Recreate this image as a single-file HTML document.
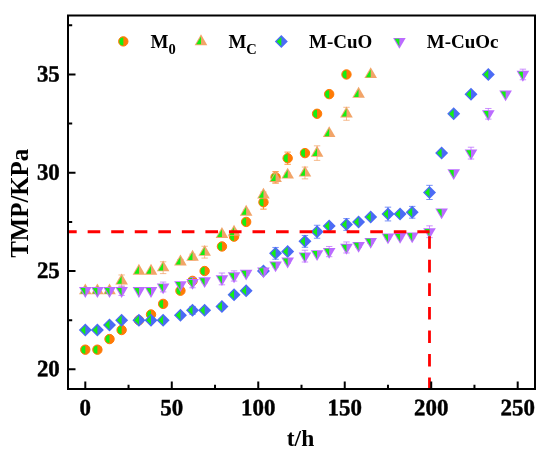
<!DOCTYPE html>
<html><head><meta charset="utf-8"><title>TMP chart</title>
<style>
html,body{margin:0;padding:0;background:#fff;}
svg{display:block;}
text{font-family:"Liberation Serif","Times New Roman",serif;font-weight:bold;fill:#000;}
</style></head><body>
<svg width="550" height="457" viewBox="0 0 550 457">
<rect width="550" height="457" fill="#fff"/>
<g id="data">
<circle cx="85.3" cy="349.68" r="4.7" fill="#FF7A05" stroke="#FF7A05" stroke-width="1"/><path d="M85.3 345.68A4.0 4.0 0 0 0 85.3 353.68Z" fill="#12F012"/>
<circle cx="97.4" cy="349.68" r="4.7" fill="#FF7A05" stroke="#FF7A05" stroke-width="1"/><path d="M97.4 345.68A4.0 4.0 0 0 0 97.4 353.68Z" fill="#12F012"/>
<path d="M109.51 336.71V341.43M106.31 336.71H112.71M106.31 341.43H112.71" stroke="#FF7A05" stroke-width="0.75" fill="none"/><circle cx="109.51" cy="339.07" r="4.7" fill="#FF7A05" stroke="#FF7A05" stroke-width="1"/><path d="M109.51 335.07A4.0 4.0 0 0 0 109.51 343.07Z" fill="#12F012"/>
<circle cx="121.62" cy="330.03" r="4.7" fill="#FF7A05" stroke="#FF7A05" stroke-width="1"/><path d="M121.62 326.03A4.0 4.0 0 0 0 121.62 334.03Z" fill="#12F012"/>
<path d="M138.91 318.23V322.16M135.71 318.23H142.11M135.71 322.16H142.11" stroke="#FF7A05" stroke-width="0.75" fill="none"/><circle cx="138.91" cy="320.2" r="4.7" fill="#FF7A05" stroke="#FF7A05" stroke-width="1"/><path d="M138.91 316.2A4.0 4.0 0 0 0 138.91 324.2Z" fill="#12F012"/>
<path d="M151.02 311.55V317.45M147.82 311.55H154.22M147.82 317.45H154.22" stroke="#FF7A05" stroke-width="0.75" fill="none"/><circle cx="151.02" cy="314.5" r="4.7" fill="#FF7A05" stroke="#FF7A05" stroke-width="1"/><path d="M151.02 310.5A4.0 4.0 0 0 0 151.02 318.5Z" fill="#12F012"/>
<path d="M163.13 301.92V305.85M159.93 301.92H166.33M159.93 305.85H166.33" stroke="#FF7A05" stroke-width="0.75" fill="none"/><circle cx="163.13" cy="303.88" r="4.7" fill="#FF7A05" stroke="#FF7A05" stroke-width="1"/><path d="M163.13 299.88A4.0 4.0 0 0 0 163.13 307.88Z" fill="#12F012"/>
<path d="M180.43 288.74V292.68M177.23 288.74H183.63M177.23 292.68H183.63" stroke="#FF7A05" stroke-width="0.75" fill="none"/><circle cx="180.43" cy="290.71" r="4.7" fill="#FF7A05" stroke="#FF7A05" stroke-width="1"/><path d="M180.43 286.71A4.0 4.0 0 0 0 180.43 294.71Z" fill="#12F012"/>
<path d="M192.53 277.93V283.83M189.33 277.93H195.73M189.33 283.83H195.73" stroke="#FF7A05" stroke-width="0.75" fill="none"/><circle cx="192.53" cy="280.88" r="4.7" fill="#FF7A05" stroke="#FF7A05" stroke-width="1"/><path d="M192.53 276.88A4.0 4.0 0 0 0 192.53 284.88Z" fill="#12F012"/>
<path d="M204.64 269.09V273.02M201.44 269.09H207.84M201.44 273.02H207.84" stroke="#FF7A05" stroke-width="0.75" fill="none"/><circle cx="204.64" cy="271.05" r="4.7" fill="#FF7A05" stroke="#FF7A05" stroke-width="1"/><path d="M204.64 267.05A4.0 4.0 0 0 0 204.64 275.05Z" fill="#12F012"/>
<path d="M221.94 244.12V248.84M218.74 244.12H225.14M218.74 248.84H225.14" stroke="#FF7A05" stroke-width="0.75" fill="none"/><circle cx="221.94" cy="246.48" r="4.7" fill="#FF7A05" stroke="#FF7A05" stroke-width="1"/><path d="M221.94 242.48A4.0 4.0 0 0 0 221.94 250.48Z" fill="#12F012"/>
<path d="M234.04 234.69V238.62M230.84 234.69H237.24M230.84 238.62H237.24" stroke="#FF7A05" stroke-width="0.75" fill="none"/><circle cx="234.04" cy="236.65" r="4.7" fill="#FF7A05" stroke="#FF7A05" stroke-width="1"/><path d="M234.04 232.65A4.0 4.0 0 0 0 234.04 240.65Z" fill="#12F012"/>
<path d="M246.15 219.94V223.87M242.95 219.94H249.35M242.95 223.87H249.35" stroke="#FF7A05" stroke-width="0.75" fill="none"/><circle cx="246.15" cy="221.91" r="4.7" fill="#FF7A05" stroke="#FF7A05" stroke-width="1"/><path d="M246.15 217.91A4.0 4.0 0 0 0 246.15 225.91Z" fill="#12F012"/>
<path d="M263.45 195.37V209.13M260.25 195.37H266.65M260.25 209.13H266.65" stroke="#FF7A05" stroke-width="0.75" fill="none"/><circle cx="263.45" cy="202.25" r="4.7" fill="#FF7A05" stroke="#FF7A05" stroke-width="1"/><path d="M263.45 198.25A4.0 4.0 0 0 0 263.45 206.25Z" fill="#12F012"/>
<path d="M275.56 171.58V182.99M272.36 171.58H278.76M272.36 182.99H278.76" stroke="#FF7A05" stroke-width="0.75" fill="none"/><circle cx="275.56" cy="177.28" r="4.7" fill="#FF7A05" stroke="#FF7A05" stroke-width="1"/><path d="M275.56 173.28A4.0 4.0 0 0 0 275.56 181.28Z" fill="#12F012"/>
<path d="M287.66 152.12V164.31M284.46 152.12H290.86M284.46 164.31H290.86" stroke="#FF7A05" stroke-width="0.75" fill="none"/><circle cx="287.66" cy="158.22" r="4.7" fill="#FF7A05" stroke="#FF7A05" stroke-width="1"/><path d="M287.66 154.22A4.0 4.0 0 0 0 287.66 162.22Z" fill="#12F012"/>
<path d="M304.96 151.14V155.07M301.76 151.14H308.16M301.76 155.07H308.16" stroke="#FF7A05" stroke-width="0.75" fill="none"/><circle cx="304.96" cy="153.11" r="4.7" fill="#FF7A05" stroke="#FF7A05" stroke-width="1"/><path d="M304.96 149.11A4.0 4.0 0 0 0 304.96 157.11Z" fill="#12F012"/>
<circle cx="317.07" cy="113.79" r="4.7" fill="#FF7A05" stroke="#FF7A05" stroke-width="1"/><path d="M317.07 109.79A4.0 4.0 0 0 0 317.07 117.79Z" fill="#12F012"/>
<circle cx="329.17" cy="94.13" r="4.7" fill="#FF7A05" stroke="#FF7A05" stroke-width="1"/><path d="M329.17 90.13A4.0 4.0 0 0 0 329.17 98.13Z" fill="#12F012"/>
<circle cx="346.47" cy="74.47" r="4.7" fill="#FF7A05" stroke="#FF7A05" stroke-width="1"/><path d="M346.47 70.47A4.0 4.0 0 0 0 346.47 78.47Z" fill="#12F012"/>
<path d="M85.3 288.74V292.68M82.1 288.74H88.5M82.1 292.68H88.5" stroke="#F2A468" stroke-width="0.75" fill="none"/><path d="M85.3 283.44L91.6 294.34L79 294.34Z" fill="#F2A468"/><path d="M85.3 285.74L85.3 293.49L80.61 293.49Z" fill="#12F012"/>
<path d="M97.4 288.74V292.68M94.2 288.74H100.6M94.2 292.68H100.6" stroke="#F2A468" stroke-width="0.75" fill="none"/><path d="M97.4 283.44L103.7 294.34L91.1 294.34Z" fill="#F2A468"/><path d="M97.4 285.74L97.4 293.49L92.72 293.49Z" fill="#12F012"/>
<path d="M109.51 288.74V292.68M106.31 288.74H112.71M106.31 292.68H112.71" stroke="#F2A468" stroke-width="0.75" fill="none"/><path d="M109.51 283.44L115.81 294.34L103.21 294.34Z" fill="#F2A468"/><path d="M109.51 285.74L109.51 293.49L104.83 293.49Z" fill="#12F012"/>
<path d="M121.62 274.98V286.78M118.42 274.98H124.82M118.42 286.78H124.82" stroke="#F2A468" stroke-width="0.75" fill="none"/><path d="M121.62 273.61L127.92 284.51L115.32 284.51Z" fill="#F2A468"/><path d="M121.62 275.91L121.62 283.66L116.93 283.66Z" fill="#12F012"/>
<path d="M138.91 263.79L145.21 274.69L132.61 274.69Z" fill="#F2A468"/><path d="M138.91 266.09L138.91 273.84L134.23 273.84Z" fill="#12F012"/>
<path d="M151.02 263.79L157.32 274.69L144.72 274.69Z" fill="#F2A468"/><path d="M151.02 266.09L151.02 273.84L146.34 273.84Z" fill="#12F012"/>
<path d="M163.13 261.81V273.61M159.93 261.81H166.33M159.93 273.61H166.33" stroke="#F2A468" stroke-width="0.75" fill="none"/><path d="M163.13 260.44L169.43 271.34L156.83 271.34Z" fill="#F2A468"/><path d="M163.13 262.74L163.13 270.49L158.44 270.49Z" fill="#12F012"/>
<path d="M180.43 259.45V264.17M177.23 259.45H183.63M177.23 264.17H183.63" stroke="#F2A468" stroke-width="0.75" fill="none"/><path d="M180.43 254.55L186.73 265.45L174.13 265.45Z" fill="#F2A468"/><path d="M180.43 256.85L180.43 264.6L175.74 264.6Z" fill="#12F012"/>
<path d="M192.53 254.15V260.04M189.33 254.15H195.73M189.33 260.04H195.73" stroke="#F2A468" stroke-width="0.75" fill="none"/><path d="M192.53 249.83L198.83 260.73L186.23 260.73Z" fill="#F2A468"/><path d="M192.53 252.13L192.53 259.88L187.85 259.88Z" fill="#12F012"/>
<path d="M204.64 246.28V258.08M201.44 246.28H207.84M201.44 258.08H207.84" stroke="#F2A468" stroke-width="0.75" fill="none"/><path d="M204.64 244.91L210.94 255.81L198.34 255.81Z" fill="#F2A468"/><path d="M204.64 247.21L204.64 254.96L199.96 254.96Z" fill="#12F012"/>
<path d="M221.94 232.33V236.26M218.74 232.33H225.14M218.74 236.26H225.14" stroke="#F2A468" stroke-width="0.75" fill="none"/><path d="M221.94 227.03L228.24 237.93L215.64 237.93Z" fill="#F2A468"/><path d="M221.94 229.33L221.94 237.08L217.25 237.08Z" fill="#12F012"/>
<path d="M234.04 230.16V234.1M230.84 230.16H237.24M230.84 234.1H237.24" stroke="#F2A468" stroke-width="0.75" fill="none"/><path d="M234.04 224.86L240.34 235.76L227.74 235.76Z" fill="#F2A468"/><path d="M234.04 227.16L234.04 234.91L229.36 234.91Z" fill="#12F012"/>
<path d="M246.15 210.11V214.04M242.95 210.11H249.35M242.95 214.04H249.35" stroke="#F2A468" stroke-width="0.75" fill="none"/><path d="M246.15 204.81L252.45 215.71L239.85 215.71Z" fill="#F2A468"/><path d="M246.15 207.11L246.15 214.86L241.47 214.86Z" fill="#12F012"/>
<path d="M263.45 192.03V197.93M260.25 192.03H266.65M260.25 197.93H266.65" stroke="#F2A468" stroke-width="0.75" fill="none"/><path d="M263.45 187.71L269.75 198.61L257.15 198.61Z" fill="#F2A468"/><path d="M263.45 190.01L263.45 197.76L258.76 197.76Z" fill="#12F012"/>
<path d="M275.56 173.35V183.18M272.36 173.35H278.76M272.36 183.18H278.76" stroke="#F2A468" stroke-width="0.75" fill="none"/><path d="M275.56 171L281.86 181.9L269.26 181.9Z" fill="#F2A468"/><path d="M275.56 173.3L275.56 181.05L270.87 181.05Z" fill="#12F012"/>
<path d="M287.66 172.96V176.89M284.46 172.96H290.86M284.46 176.89H290.86" stroke="#F2A468" stroke-width="0.75" fill="none"/><path d="M287.66 167.66L293.96 178.56L281.36 178.56Z" fill="#F2A468"/><path d="M287.66 169.96L287.66 177.71L282.98 177.71Z" fill="#12F012"/>
<path d="M304.96 167.06V178.86M301.76 167.06H308.16M301.76 178.86H308.16" stroke="#F2A468" stroke-width="0.75" fill="none"/><path d="M304.96 165.69L311.26 176.59L298.66 176.59Z" fill="#F2A468"/><path d="M304.96 167.99L304.96 175.74L300.27 175.74Z" fill="#12F012"/>
<path d="M317.07 145.83V160.38M313.87 145.83H320.27M313.87 160.38H320.27" stroke="#F2A468" stroke-width="0.75" fill="none"/><path d="M317.07 145.84L323.37 156.74L310.77 156.74Z" fill="#F2A468"/><path d="M317.07 148.14L317.07 155.89L312.38 155.89Z" fill="#12F012"/>
<path d="M329.17 126.18L335.47 137.08L322.87 137.08Z" fill="#F2A468"/><path d="M329.17 128.48L329.17 136.23L324.49 136.23Z" fill="#12F012"/>
<path d="M346.47 107.3V120.28M343.27 107.3H349.67M343.27 120.28H349.67" stroke="#F2A468" stroke-width="0.75" fill="none"/><path d="M346.47 106.52L352.77 117.42L340.17 117.42Z" fill="#F2A468"/><path d="M346.47 108.82L346.47 116.57L341.79 116.57Z" fill="#12F012"/>
<path d="M358.58 86.86L364.88 97.76L352.28 97.76Z" fill="#F2A468"/><path d="M358.58 89.16L358.58 96.91L353.89 96.91Z" fill="#12F012"/>
<path d="M370.69 67.21L376.99 78.11L364.39 78.11Z" fill="#F2A468"/><path d="M370.69 69.51L370.69 77.26L366 77.26Z" fill="#12F012"/>
<path d="M85.3 323.53L91.8 330.03L85.3 336.53L78.8 330.03Z" fill="#4B6BF5"/><path d="M85.3 325.43L85.3 334.63L80.7 330.03Z" fill="#12F012"/>
<path d="M97.4 323.53L103.9 330.03L97.4 336.53L90.9 330.03Z" fill="#4B6BF5"/><path d="M97.4 325.43L97.4 334.63L92.8 330.03Z" fill="#12F012"/>
<path d="M109.51 322.95V326.88M106.31 322.95H112.71M106.31 326.88H112.71" stroke="#4B6BF5" stroke-width="0.75" fill="none"/><path d="M109.51 318.42L116.01 324.92L109.51 331.42L103.01 324.92Z" fill="#4B6BF5"/><path d="M109.51 320.32L109.51 329.52L104.91 324.92Z" fill="#12F012"/>
<path d="M121.62 318.23V322.16M118.42 318.23H124.82M118.42 322.16H124.82" stroke="#4B6BF5" stroke-width="0.75" fill="none"/><path d="M121.62 313.7L128.12 320.2L121.62 326.7L115.12 320.2Z" fill="#4B6BF5"/><path d="M121.62 315.6L121.62 324.8L117.02 320.2Z" fill="#12F012"/>
<path d="M138.91 318.23V322.16M135.71 318.23H142.11M135.71 322.16H142.11" stroke="#4B6BF5" stroke-width="0.75" fill="none"/><path d="M138.91 313.7L145.41 320.2L138.91 326.7L132.41 320.2Z" fill="#4B6BF5"/><path d="M138.91 315.6L138.91 324.8L134.31 320.2Z" fill="#12F012"/>
<path d="M151.02 318.23V322.16M147.82 318.23H154.22M147.82 322.16H154.22" stroke="#4B6BF5" stroke-width="0.75" fill="none"/><path d="M151.02 313.7L157.52 320.2L151.02 326.7L144.52 320.2Z" fill="#4B6BF5"/><path d="M151.02 315.6L151.02 324.8L146.42 320.2Z" fill="#12F012"/>
<path d="M163.13 318.23V322.16M159.93 318.23H166.33M159.93 322.16H166.33" stroke="#4B6BF5" stroke-width="0.75" fill="none"/><path d="M163.13 313.7L169.63 320.2L163.13 326.7L156.63 320.2Z" fill="#4B6BF5"/><path d="M163.13 315.6L163.13 324.8L158.53 320.2Z" fill="#12F012"/>
<path d="M180.43 313.32V317.25M177.23 313.32H183.63M177.23 317.25H183.63" stroke="#4B6BF5" stroke-width="0.75" fill="none"/><path d="M180.43 308.78L186.93 315.28L180.43 321.78L173.93 315.28Z" fill="#4B6BF5"/><path d="M180.43 310.68L180.43 319.88L175.83 315.28Z" fill="#12F012"/>
<path d="M192.53 306.44V314.3M189.33 306.44H195.73M189.33 314.3H195.73" stroke="#4B6BF5" stroke-width="0.75" fill="none"/><path d="M192.53 303.87L199.03 310.37L192.53 316.87L186.03 310.37Z" fill="#4B6BF5"/><path d="M192.53 305.77L192.53 314.97L187.93 310.37Z" fill="#12F012"/>
<path d="M204.64 308.4V312.33M201.44 308.4H207.84M201.44 312.33H207.84" stroke="#4B6BF5" stroke-width="0.75" fill="none"/><path d="M204.64 303.87L211.14 310.37L204.64 316.87L198.14 310.37Z" fill="#4B6BF5"/><path d="M204.64 305.77L204.64 314.97L200.04 310.37Z" fill="#12F012"/>
<path d="M221.94 303.49V309.39M218.74 303.49H225.14M218.74 309.39H225.14" stroke="#4B6BF5" stroke-width="0.75" fill="none"/><path d="M221.94 299.94L228.44 306.44L221.94 312.94L215.44 306.44Z" fill="#4B6BF5"/><path d="M221.94 301.84L221.94 311.04L217.34 306.44Z" fill="#12F012"/>
<path d="M234.04 292.68V296.61M230.84 292.68H237.24M230.84 296.61H237.24" stroke="#4B6BF5" stroke-width="0.75" fill="none"/><path d="M234.04 288.14L240.54 294.64L234.04 301.14L227.54 294.64Z" fill="#4B6BF5"/><path d="M234.04 290.04L234.04 299.24L229.44 294.64Z" fill="#12F012"/>
<path d="M246.15 288.74V292.68M242.95 288.74H249.35M242.95 292.68H249.35" stroke="#4B6BF5" stroke-width="0.75" fill="none"/><path d="M246.15 284.21L252.65 290.71L246.15 297.21L239.65 290.71Z" fill="#4B6BF5"/><path d="M246.15 286.11L246.15 295.31L241.55 290.71Z" fill="#12F012"/>
<path d="M263.45 268.1V274M260.25 268.1H266.65M260.25 274H266.65" stroke="#4B6BF5" stroke-width="0.75" fill="none"/><path d="M263.45 264.55L269.95 271.05L263.45 277.55L256.95 271.05Z" fill="#4B6BF5"/><path d="M263.45 266.45L263.45 275.65L258.85 271.05Z" fill="#12F012"/>
<path d="M275.56 247.46V259.26M272.36 247.46H278.76M272.36 259.26H278.76" stroke="#4B6BF5" stroke-width="0.75" fill="none"/><path d="M275.56 246.86L282.06 253.36L275.56 259.86L269.06 253.36Z" fill="#4B6BF5"/><path d="M275.56 248.76L275.56 257.96L270.96 253.36Z" fill="#12F012"/>
<path d="M287.66 249.63V253.56M284.46 249.63H290.86M284.46 253.56H290.86" stroke="#4B6BF5" stroke-width="0.75" fill="none"/><path d="M287.66 245.09L294.16 251.59L287.66 258.09L281.16 251.59Z" fill="#4B6BF5"/><path d="M287.66 246.99L287.66 256.19L283.06 251.59Z" fill="#12F012"/>
<path d="M304.96 235.47V247.27M301.76 235.47H308.16M301.76 247.27H308.16" stroke="#4B6BF5" stroke-width="0.75" fill="none"/><path d="M304.96 234.87L311.46 241.37L304.96 247.87L298.46 241.37Z" fill="#4B6BF5"/><path d="M304.96 236.77L304.96 245.97L300.36 241.37Z" fill="#12F012"/>
<path d="M317.07 225.25V238.22M313.87 225.25H320.27M313.87 238.22H320.27" stroke="#4B6BF5" stroke-width="0.75" fill="none"/><path d="M317.07 225.24L323.57 231.74L317.07 238.24L310.57 231.74Z" fill="#4B6BF5"/><path d="M317.07 227.14L317.07 236.34L312.47 231.74Z" fill="#12F012"/>
<path d="M329.17 224.07V228M325.97 224.07H332.37M325.97 228H332.37" stroke="#4B6BF5" stroke-width="0.75" fill="none"/><path d="M329.17 219.54L335.67 226.04L329.17 232.54L322.67 226.04Z" fill="#4B6BF5"/><path d="M329.17 221.44L329.17 230.64L324.57 226.04Z" fill="#12F012"/>
<path d="M346.47 218.57V230.36M343.27 218.57H349.67M343.27 230.36H349.67" stroke="#4B6BF5" stroke-width="0.75" fill="none"/><path d="M346.47 217.96L352.97 224.46L346.47 230.96L339.97 224.46Z" fill="#4B6BF5"/><path d="M346.47 219.86L346.47 229.06L341.87 224.46Z" fill="#12F012"/>
<path d="M358.58 219.94V223.87M355.38 219.94H361.78M355.38 223.87H361.78" stroke="#4B6BF5" stroke-width="0.75" fill="none"/><path d="M358.58 215.41L365.08 221.91L358.58 228.41L352.08 221.91Z" fill="#4B6BF5"/><path d="M358.58 217.31L358.58 226.51L353.98 221.91Z" fill="#12F012"/>
<path d="M370.69 215.03V218.96M367.49 215.03H373.89M367.49 218.96H373.89" stroke="#4B6BF5" stroke-width="0.75" fill="none"/><path d="M370.69 210.49L377.19 216.99L370.69 223.49L364.19 216.99Z" fill="#4B6BF5"/><path d="M370.69 212.39L370.69 221.59L366.09 216.99Z" fill="#12F012"/>
<path d="M387.98 207.16V220.93M384.78 207.16H391.18M384.78 220.93H391.18" stroke="#4B6BF5" stroke-width="0.75" fill="none"/><path d="M387.98 207.54L394.48 214.04L387.98 220.54L381.48 214.04Z" fill="#4B6BF5"/><path d="M387.98 209.44L387.98 218.64L383.38 214.04Z" fill="#12F012"/>
<path d="M400.09 212.08V216.01M396.89 212.08H403.29M396.89 216.01H403.29" stroke="#4B6BF5" stroke-width="0.75" fill="none"/><path d="M400.09 207.54L406.59 214.04L400.09 220.54L393.59 214.04Z" fill="#4B6BF5"/><path d="M400.09 209.44L400.09 218.64L395.49 214.04Z" fill="#12F012"/>
<path d="M412.2 206.38V218.17M409 206.38H415.4M409 218.17H415.4" stroke="#4B6BF5" stroke-width="0.75" fill="none"/><path d="M412.2 205.78L418.7 212.28L412.2 218.78L405.7 212.28Z" fill="#4B6BF5"/><path d="M412.2 207.68L412.2 216.88L407.6 212.28Z" fill="#12F012"/>
<path d="M429.49 185.34V199.5M426.29 185.34H432.69M426.29 199.5H432.69" stroke="#4B6BF5" stroke-width="0.75" fill="none"/><path d="M429.49 185.92L435.99 192.42L429.49 198.92L422.99 192.42Z" fill="#4B6BF5"/><path d="M429.49 187.82L429.49 197.02L424.89 192.42Z" fill="#12F012"/>
<path d="M441.6 146.61L448.1 153.11L441.6 159.61L435.1 153.11Z" fill="#4B6BF5"/><path d="M441.6 148.51L441.6 157.71L437 153.11Z" fill="#12F012"/>
<path d="M453.71 107.29L460.21 113.79L453.71 120.29L447.21 113.79Z" fill="#4B6BF5"/><path d="M453.71 109.19L453.71 118.39L449.11 113.79Z" fill="#12F012"/>
<path d="M471 87.63L477.5 94.13L471 100.63L464.5 94.13Z" fill="#4B6BF5"/><path d="M471 89.53L471 98.73L466.4 94.13Z" fill="#12F012"/>
<path d="M488.3 67.97L494.8 74.47L488.3 80.97L481.8 74.47Z" fill="#4B6BF5"/><path d="M488.3 69.87L488.3 79.07L483.7 74.47Z" fill="#12F012"/>
<path d="M85.3 288.74V292.68M82.1 288.74H88.5M82.1 292.68H88.5" stroke="#BB6BFF" stroke-width="0.75" fill="none"/><path d="M79 287.11L91.6 287.11L85.3 297.91Z" fill="#BB6BFF"/><path d="M85.3 295.61L85.3 287.96L80.61 287.96Z" fill="#12F012"/>
<path d="M97.4 288.74V292.68M94.2 288.74H100.6M94.2 292.68H100.6" stroke="#BB6BFF" stroke-width="0.75" fill="none"/><path d="M91.1 287.11L103.7 287.11L97.4 297.91Z" fill="#BB6BFF"/><path d="M97.4 295.61L97.4 287.96L92.72 287.96Z" fill="#12F012"/>
<path d="M109.51 288.74V292.68M106.31 288.74H112.71M106.31 292.68H112.71" stroke="#BB6BFF" stroke-width="0.75" fill="none"/><path d="M103.21 287.11L115.81 287.11L109.51 297.91Z" fill="#BB6BFF"/><path d="M109.51 295.61L109.51 287.96L104.83 287.96Z" fill="#12F012"/>
<path d="M121.62 285.99V295.43M118.42 285.99H124.82M118.42 295.43H124.82" stroke="#BB6BFF" stroke-width="0.75" fill="none"/><path d="M115.32 287.11L127.92 287.11L121.62 297.91Z" fill="#BB6BFF"/><path d="M121.62 295.61L121.62 287.96L116.93 287.96Z" fill="#12F012"/>
<path d="M132.61 287.11L145.21 287.11L138.91 297.91Z" fill="#BB6BFF"/><path d="M138.91 295.61L138.91 287.96L134.23 287.96Z" fill="#12F012"/>
<path d="M144.72 287.11L157.32 287.11L151.02 297.91Z" fill="#BB6BFF"/><path d="M151.02 295.61L151.02 287.96L146.34 287.96Z" fill="#12F012"/>
<path d="M163.13 282.06V291.89M159.93 282.06H166.33M159.93 291.89H166.33" stroke="#BB6BFF" stroke-width="0.75" fill="none"/><path d="M156.83 283.38L169.43 283.38L163.13 294.18Z" fill="#BB6BFF"/><path d="M163.13 291.88L163.13 284.23L158.44 284.23Z" fill="#12F012"/>
<path d="M180.43 282.85V286.78M177.23 282.85H183.63M177.23 286.78H183.63" stroke="#BB6BFF" stroke-width="0.75" fill="none"/><path d="M174.13 281.21L186.73 281.21L180.43 292.01Z" fill="#BB6BFF"/><path d="M180.43 289.71L180.43 282.06L175.74 282.06Z" fill="#12F012"/>
<path d="M192.53 277.54V287.76M189.33 277.54H195.73M189.33 287.76H195.73" stroke="#BB6BFF" stroke-width="0.75" fill="none"/><path d="M186.23 279.05L198.83 279.05L192.53 289.85Z" fill="#BB6BFF"/><path d="M192.53 287.55L192.53 279.9L187.85 279.9Z" fill="#12F012"/>
<path d="M204.64 278.92V282.85M201.44 278.92H207.84M201.44 282.85H207.84" stroke="#BB6BFF" stroke-width="0.75" fill="none"/><path d="M198.34 277.28L210.94 277.28L204.64 288.08Z" fill="#BB6BFF"/><path d="M204.64 285.78L204.64 278.13L199.96 278.13Z" fill="#12F012"/>
<path d="M221.94 273.02V284.81M218.74 273.02H225.14M218.74 284.81H225.14" stroke="#BB6BFF" stroke-width="0.75" fill="none"/><path d="M215.64 275.32L228.24 275.32L221.94 286.12Z" fill="#BB6BFF"/><path d="M221.94 283.82L221.94 276.17L217.25 276.17Z" fill="#12F012"/>
<path d="M234.04 270.86V281.08M230.84 270.86H237.24M230.84 281.08H237.24" stroke="#BB6BFF" stroke-width="0.75" fill="none"/><path d="M227.74 272.37L240.34 272.37L234.04 283.17Z" fill="#BB6BFF"/><path d="M234.04 280.87L234.04 273.22L229.36 273.22Z" fill="#12F012"/>
<path d="M246.15 271.45V275.38M242.95 271.45H249.35M242.95 275.38H249.35" stroke="#BB6BFF" stroke-width="0.75" fill="none"/><path d="M239.85 269.81L252.45 269.81L246.15 280.61Z" fill="#BB6BFF"/><path d="M246.15 278.31L246.15 270.66L241.47 270.66Z" fill="#12F012"/>
<path d="M263.45 269.09V273.02M260.25 269.09H266.65M260.25 273.02H266.65" stroke="#BB6BFF" stroke-width="0.75" fill="none"/><path d="M257.15 267.45L269.75 267.45L263.45 278.25Z" fill="#BB6BFF"/><path d="M263.45 275.95L263.45 268.3L258.76 268.3Z" fill="#12F012"/>
<path d="M275.56 263.19V267.12M272.36 263.19H278.76M272.36 267.12H278.76" stroke="#BB6BFF" stroke-width="0.75" fill="none"/><path d="M269.26 261.56L281.86 261.56L275.56 272.36Z" fill="#BB6BFF"/><path d="M275.56 270.06L275.56 262.41L270.87 262.41Z" fill="#12F012"/>
<path d="M287.66 259.26V263.19M284.46 259.26H290.86M284.46 263.19H290.86" stroke="#BB6BFF" stroke-width="0.75" fill="none"/><path d="M281.36 257.62L293.96 257.62L287.66 268.42Z" fill="#BB6BFF"/><path d="M287.66 266.12L287.66 258.47L282.98 258.47Z" fill="#12F012"/>
<path d="M304.96 250.22V262.01M301.76 250.22H308.16M301.76 262.01H308.16" stroke="#BB6BFF" stroke-width="0.75" fill="none"/><path d="M298.66 252.51L311.26 252.51L304.96 263.31Z" fill="#BB6BFF"/><path d="M304.96 261.01L304.96 253.36L300.27 253.36Z" fill="#12F012"/>
<path d="M317.07 251.79V255.72M313.87 251.79H320.27M313.87 255.72H320.27" stroke="#BB6BFF" stroke-width="0.75" fill="none"/><path d="M310.77 250.15L323.37 250.15L317.07 260.95Z" fill="#BB6BFF"/><path d="M317.07 258.65L317.07 251L312.38 251Z" fill="#12F012"/>
<path d="M329.17 246.48V256.7M325.97 246.48H332.37M325.97 256.7H332.37" stroke="#BB6BFF" stroke-width="0.75" fill="none"/><path d="M322.87 247.99L335.47 247.99L329.17 258.79Z" fill="#BB6BFF"/><path d="M329.17 256.49L329.17 248.84L324.49 248.84Z" fill="#12F012"/>
<path d="M346.47 241.96V252.97M343.27 241.96H349.67M343.27 252.97H349.67" stroke="#BB6BFF" stroke-width="0.75" fill="none"/><path d="M340.17 243.86L352.77 243.86L346.47 254.66Z" fill="#BB6BFF"/><path d="M346.47 252.36L346.47 244.71L341.79 244.71Z" fill="#12F012"/>
<path d="M358.58 243.53V247.46M355.38 243.53H361.78M355.38 247.46H361.78" stroke="#BB6BFF" stroke-width="0.75" fill="none"/><path d="M352.28 241.9L364.88 241.9L358.58 252.7Z" fill="#BB6BFF"/><path d="M358.58 250.4L358.58 242.75L353.89 242.75Z" fill="#12F012"/>
<path d="M370.69 239.6V243.53M367.49 239.6H373.89M367.49 243.53H373.89" stroke="#BB6BFF" stroke-width="0.75" fill="none"/><path d="M364.39 237.97L376.99 237.97L370.69 248.77Z" fill="#BB6BFF"/><path d="M370.69 246.47L370.69 238.82L366 238.82Z" fill="#12F012"/>
<path d="M387.98 235.08V239.01M384.78 235.08H391.18M384.78 239.01H391.18" stroke="#BB6BFF" stroke-width="0.75" fill="none"/><path d="M381.68 233.44L394.28 233.44L387.98 244.24Z" fill="#BB6BFF"/><path d="M387.98 241.94L387.98 234.29L383.3 234.29Z" fill="#12F012"/>
<path d="M400.09 234.69V238.62M396.89 234.69H403.29M396.89 238.62H403.29" stroke="#BB6BFF" stroke-width="0.75" fill="none"/><path d="M393.79 233.05L406.39 233.05L400.09 243.85Z" fill="#BB6BFF"/><path d="M400.09 241.55L400.09 233.9L395.4 233.9Z" fill="#12F012"/>
<path d="M412.2 234.1V238.03M409 234.1H415.4M409 238.03H415.4" stroke="#BB6BFF" stroke-width="0.75" fill="none"/><path d="M405.9 232.46L418.5 232.46L412.2 243.26Z" fill="#BB6BFF"/><path d="M412.2 240.96L412.2 233.31L407.51 233.31Z" fill="#12F012"/>
<path d="M429.49 225.84V237.63M426.29 225.84H432.69M426.29 237.63H432.69" stroke="#BB6BFF" stroke-width="0.75" fill="none"/><path d="M423.19 228.14L435.79 228.14L429.49 238.94Z" fill="#BB6BFF"/><path d="M429.49 236.64L429.49 228.99L424.81 228.99Z" fill="#12F012"/>
<path d="M435.3 208.48L447.9 208.48L441.6 219.28Z" fill="#BB6BFF"/><path d="M441.6 216.98L441.6 209.33L436.92 209.33Z" fill="#12F012"/>
<path d="M447.41 169.16L460.01 169.16L453.71 179.96Z" fill="#BB6BFF"/><path d="M453.71 177.66L453.71 170.01L449.02 170.01Z" fill="#12F012"/>
<path d="M471 147.21V159M467.8 147.21H474.2M467.8 159H474.2" stroke="#BB6BFF" stroke-width="0.75" fill="none"/><path d="M464.7 149.51L477.3 149.51L471 160.31Z" fill="#BB6BFF"/><path d="M471 158.01L471 150.36L466.32 150.36Z" fill="#12F012"/>
<path d="M488.3 108.48V119.1M485.1 108.48H491.5M485.1 119.1H491.5" stroke="#BB6BFF" stroke-width="0.75" fill="none"/><path d="M482 110.19L494.6 110.19L488.3 120.99Z" fill="#BB6BFF"/><path d="M488.3 118.69L488.3 111.04L483.62 111.04Z" fill="#12F012"/>
<path d="M499.3 90.53L511.9 90.53L505.6 101.33Z" fill="#BB6BFF"/><path d="M505.6 99.03L505.6 91.38L500.91 91.38Z" fill="#12F012"/>
<path d="M522.89 69.17V79.78M519.69 69.17H526.09M519.69 79.78H526.09" stroke="#BB6BFF" stroke-width="0.75" fill="none"/><path d="M516.59 70.87L529.19 70.87L522.89 81.67Z" fill="#BB6BFF"/><path d="M522.89 79.37L522.89 71.72L518.21 71.72Z" fill="#12F012"/>
</g>
<g id="ref" stroke="#FF0000" stroke-width="2.8" fill="none" stroke-dasharray="12.6 10.95">
<path d="M68.0 231.74H429.49" stroke-dashoffset="3.9"/>
<path d="M429.49 231.74V389.0" stroke-dashoffset="19.05"/>
</g>
<g id="axes" stroke="#000" stroke-width="2" fill="none">
<rect x="68.0" y="15.5" width="467.0" height="373.5"/>
<path d="M68.0 369.34h7.5M68.0 271.05h7.5M68.0 172.76h7.5M68.0 74.47h7.5M68.0 320.2h4.2M68.0 221.91h4.2M68.0 123.62h4.2M68.0 25.33h4.2M85.3 389.0v-7.5M171.78 389.0v-7.5M258.26 389.0v-7.5M344.74 389.0v-7.5M431.22 389.0v-7.5M517.7 389.0v-7.5M128.54 389.0v-4.2M215.02 389.0v-4.2M301.5 389.0v-4.2M387.98 389.0v-4.2M474.46 389.0v-4.2"/>
</g>
<g font-size="23.5">
<text transform="translate(59.8 376.29) rotate(0.05) scale(.975 1)" text-anchor="end" stroke="#000" stroke-width="0.45" stroke-linejoin="round">20</text>
<text transform="translate(59.8 278) rotate(0.05) scale(.975 1)" text-anchor="end" stroke="#000" stroke-width="0.45" stroke-linejoin="round">25</text>
<text transform="translate(59.8 179.71) rotate(0.05) scale(.975 1)" text-anchor="end" stroke="#000" stroke-width="0.45" stroke-linejoin="round">30</text>
<text transform="translate(59.8 81.42) rotate(0.05) scale(.975 1)" text-anchor="end" stroke="#000" stroke-width="0.45" stroke-linejoin="round">35</text>
<text transform="translate(85.3 415.25) rotate(0.05) scale(.975 1)" text-anchor="middle" stroke="#000" stroke-width="0.45" stroke-linejoin="round">0</text>
<text transform="translate(171.78 415.25) rotate(0.05) scale(.975 1)" text-anchor="middle" stroke="#000" stroke-width="0.45" stroke-linejoin="round">50</text>
<text transform="translate(258.26 415.25) rotate(0.05) scale(.975 1)" text-anchor="middle" stroke="#000" stroke-width="0.45" stroke-linejoin="round">100</text>
<text transform="translate(344.74 415.25) rotate(0.05) scale(.975 1)" text-anchor="middle" stroke="#000" stroke-width="0.45" stroke-linejoin="round">150</text>
<text transform="translate(431.22 415.25) rotate(0.05) scale(.975 1)" text-anchor="middle" stroke="#000" stroke-width="0.45" stroke-linejoin="round">200</text>
<text transform="translate(517.7 415.25) rotate(0.05) scale(.975 1)" text-anchor="middle" stroke="#000" stroke-width="0.45" stroke-linejoin="round">250</text>
<text x="300.5" y="445.6" text-anchor="middle">t/h</text>
<text transform="translate(28.3 203.3) rotate(-90)" text-anchor="middle" font-size="24.8">TMP/KPa</text>
</g>
<g id="legend" font-size="19">
<circle cx="123.3" cy="41.4" r="4.7" fill="#FF7A05" stroke="#FF7A05" stroke-width="1"/><path d="M123.3 37.4A4.0 4.0 0 0 0 123.3 45.4Z" fill="#12F012"/>
<text x="150.5" y="48.2">M<tspan font-size="14.5" dy="5.3">0</tspan></text>
<path d="M201 34.23L207.3 45.13L194.7 45.13Z" fill="#F2A468"/><path d="M201 36.53L201 44.28L196.31 44.28Z" fill="#12F012"/>
<text x="228.4" y="48.2">M<tspan font-size="14.5" dy="5.3">C</tspan></text>
<path d="M281.3 35L287.8 41.5L281.3 48L274.8 41.5Z" fill="#4B6BF5"/><path d="M281.3 36.9L281.3 46.1L276.7 41.5Z" fill="#12F012"/>
<text x="309" y="48.2">M-CuO</text>
<path d="M393.1 37.9L405.7 37.9L399.4 48.7Z" fill="#BB6BFF"/><path d="M399.4 46.4L399.4 38.75L394.71 38.75Z" fill="#12F012"/>
<text x="426.8" y="48.2">M-CuOc</text>
</g>
</svg>
</body></html>
